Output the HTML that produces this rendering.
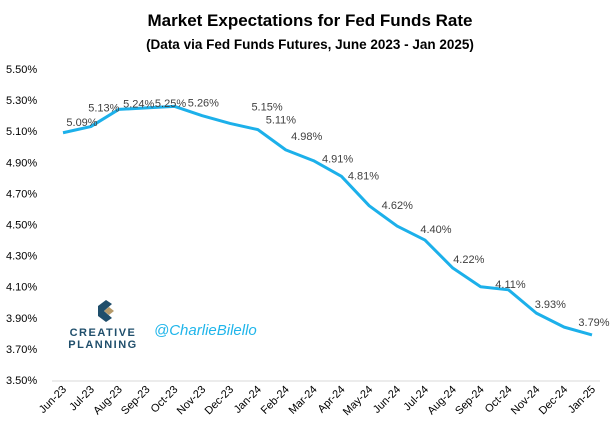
<!DOCTYPE html>
<html><head><meta charset="utf-8"><style>
body{margin:0;background:#fff;}
svg{display:block;font-family:"Liberation Sans",sans-serif;}
</style></head><body>
<svg id="chart" width="612" height="427">
<text x="310" y="26" text-anchor="middle" font-size="17" font-weight="bold" fill="#000">Market Expectations for Fed Funds Rate</text>
<text x="310" y="49" text-anchor="middle" font-size="13.5" font-weight="bold" fill="#000">(Data via Fed Funds Futures, June 2023 - Jan 2025)</text>
<g id="yaxis"></g>
<g id="xaxis"></g>
<line x1="52" y1="381" x2="600" y2="381" stroke="#d9d9d9" stroke-width="1"/>
<g id="series"></g>
<g id="labels"></g>
<g>
<path d="M106 300 L98 306 L98 316 L106 322 L112 318 L104 311 L112 304 Z" fill="#1f4e6b"/>
<path d="M104 311 L109 307 L114 311 L109 315 Z" fill="#b59a6a"/>
<text x="103" y="336" text-anchor="middle" font-size="11" font-weight="bold" letter-spacing="1.5" fill="#1f4e6b">CREATIVE</text>
<text x="103" y="348" text-anchor="middle" font-size="11" font-weight="bold" letter-spacing="1.5" fill="#1f4e6b">PLANNING</text>
</g>
<text x="154" y="335" font-size="15" font-style="italic" fill="#1fb5ea">@CharlieBilello</text>
</svg>
<script>
const categories=["Jun-23","Jul-23","Aug-23","Sep-23","Oct-23","Nov-23","Dec-23","Jan-24","Feb-24","Mar-24","Apr-24","May-24","Jun-24","Jul-24","Aug-24","Sep-24","Oct-24","Nov-24","Dec-24","Jan-25"];
const rates=[5.09,5.13,5.24,5.25,5.26,5.20,5.15,5.11,4.98,4.91,4.81,4.62,4.49,4.40,4.22,4.10,4.08,3.93,3.84,3.79];
const labelIdx=[0,1,2,3,4,6,7,8,9,10,11,13,14,16,17,19];
const labelText=["5.09%","5.13%","5.24%","5.25%","5.26%","5.15%","5.11%","4.98%","4.91%","4.81%","4.62%","4.40%","4.22%","4.11%","3.93%","3.79%"];
const yTicks=[5.5,5.3,5.1,4.9,4.7,4.5,4.3,4.1,3.9,3.7,3.5];
const yTickLabels=["5.50%","5.30%","5.10%","4.90%","4.70%","4.50%","4.30%","4.10%","3.90%","3.70%","3.50%"];
// label layout offsets (px), styling only
const labelShiftX=[19,13,20,24,29,37,23,21,24,22,28,11,16,2,14,2];
const labelShiftY=[-7,-15,-2,-1,0,-13,-6,-10,2,3,3,-7,-5,-2,-5,-9];
const NS="http://www.w3.org/2000/svg";
const x=i=>63+i*(592-63)/(categories.length-1);
const y=v=>69+(5.5-v)/0.2*31.1;
const ya=document.getElementById('yaxis');
yTicks.forEach((t,i)=>{const e=document.createElementNS(NS,'text');


e.setAttribute('x',6);e.setAttribute('y',y(t)+4);e.setAttribute('font-size','11');e.setAttribute('fill','#000');e.textContent=yTickLabels[i];ya.appendChild(e);});
const xa=document.getElementById('xaxis');
categories.forEach((c,i)=>{const e=document.createElementNS(NS,'text');


const px=x(i)+4,py=390;e.setAttribute('x',px);e.setAttribute('y',py);e.setAttribute('text-anchor','end');e.setAttribute('font-size','11');e.setAttribute('fill','#000');e.setAttribute('transform',`rotate(-45 ${px} ${py})`);e.textContent=c;xa.appendChild(e);});
const pl=document.createElementNS(NS,'polyline');


pl.setAttribute('points',rates.map((v,i)=>x(i)+','+y(v)).join(' '));pl.setAttribute('fill','none');pl.setAttribute('stroke','#1cb0ea');pl.setAttribute('stroke-width','3');pl.setAttribute('stroke-linejoin','round');
document.getElementById('series').appendChild(pl);
const lg=document.getElementById('labels');
labelIdx.forEach((idx,k)=>{const e=document.createElementNS(NS,'text');


e.setAttribute('x',x(idx)+labelShiftX[k]);e.setAttribute('y',y(rates[idx])+labelShiftY[k]);e.setAttribute('text-anchor','middle');e.setAttribute('font-size','11');e.setAttribute('fill','#404040');e.textContent=labelText[k];lg.appendChild(e);});
</script>
</body></html>
